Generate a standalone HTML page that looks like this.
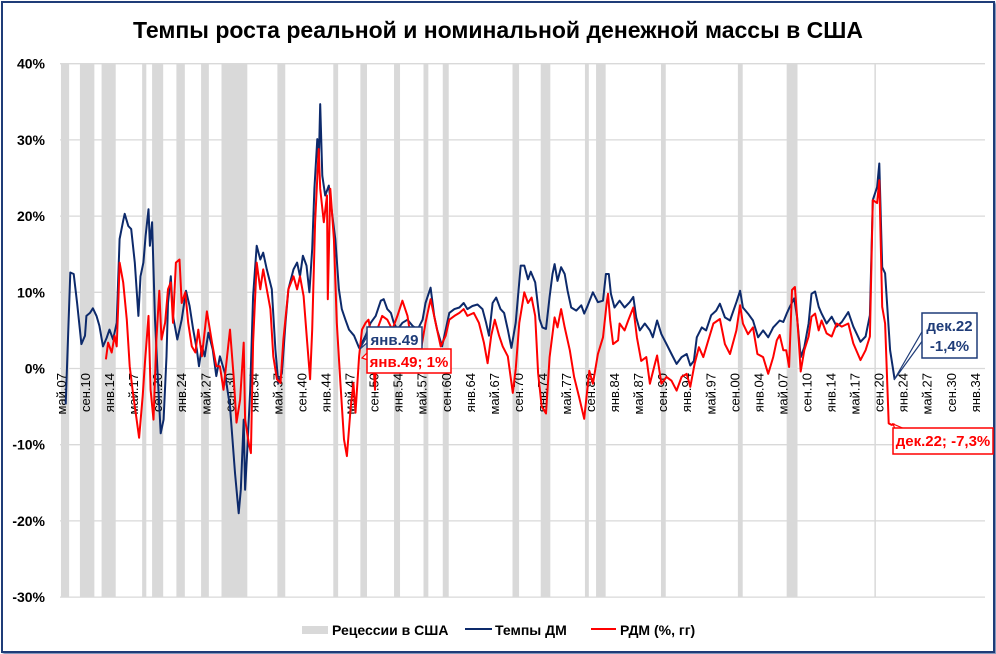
<!DOCTYPE html>
<html><head><meta charset="utf-8">
<style>
html,body{margin:0;padding:0;background:#fff;}
#frame{position:absolute;left:1px;top:1px;width:990px;height:648px;border:2px solid #1f3c78;box-shadow:2px 2px 2px #7a8fb8;background:#fff;}
svg{position:absolute;left:0;top:0;}
text{font-family:"Liberation Sans","DejaVu Sans",sans-serif;}
</style></head>
<body>
<div id="frame"></div>
<svg id="chart" width="996" height="654">
<text x="498" y="38" text-anchor="middle" font-size="23" font-weight="bold" fill="#000">Темпы роста реальной и номинальной денежной массы в США</text>
<g id="rec"></g>
<g id="grid"></g>
<g id="ylab"></g>
<g id="xlab"></g>
<g id="series"></g>
<g id="ann"></g>
<g id="legend">
<rect x="302" y="626" width="26" height="8" fill="#d9d9d9"/>
<text x="332" y="635" font-size="14" font-weight="bold">Рецессии в США</text>
<line x1="465" y1="629" x2="492" y2="629" stroke="#0d2a6b" stroke-width="2"/>
<text x="495" y="635" font-size="14" font-weight="bold">Темпы ДМ</text>
<line x1="591" y1="629" x2="616" y2="629" stroke="#ff0000" stroke-width="2"/>
<text x="620" y="635" font-size="14" font-weight="bold">РДМ (%, гг)</text>
</g>
</svg>
<script>
const yTicks=[40,30,20,10,0,-10,-20,-30];
const recStart=[1907.37,1910.0,1913.0,1918.62,1920.0,1923.37,1926.79,1929.62,1937.37,1945.12,1948.87,1953.54,1957.62,1960.29,1969.96,1973.87,1980.0,1981.54,1990.54,2001.2,2007.96,2020.12];
const recEnd=[1908.5,1912.0,1914.96,1919.2,1921.54,1924.54,1927.87,1933.2,1938.46,1945.79,1949.79,1954.37,1958.29,1961.12,1970.87,1975.2,1980.54,1982.87,1991.2,2001.87,2009.46,2020.29];
const blueT=[1908.02,1908.67,1909.13,1909.6,1910.2,1910.7,1910.9,1911.4,1911.8,1912.3,1912.7,1913.2,1913.7,1914.1,1914.6,1915.1,1915.5,1916.0,1916.2,1916.7,1917.1,1917.6,1918.1,1918.4,1918.8,1919.1,1919.5,1919.7,1920.0,1920.4,1920.8,1921.2,1921.6,1922.0,1922.2,1922.6,1922.9,1923.5,1924.1,1924.7,1925.2,1925.7,1926.2,1926.5,1926.9,1927.3,1927.8,1928.4,1928.9,1929.4,1930.1,1930.8,1931.5,1932.0,1932.3,1932.7,1932.9,1933.2,1933.6,1934.0,1934.5,1935.0,1935.4,1935.9,1936.6,1937.1,1937.5,1938.0,1938.5,1938.9,1939.6,1940.1,1940.5,1940.9,1941.4,1941.8,1942.2,1942.5,1942.9,1943.1,1943.3,1943.6,1944.0,1944.5,1945.0,1945.4,1945.9,1946.3,1946.8,1947.3,1948.0,1948.7,1949.1,1949.6,1950.3,1951.0,1951.7,1952.1,1952.6,1953.1,1953.5,1954.0,1954.7,1955.4,1956.1,1956.8,1957.5,1957.9,1958.6,1959.1,1959.5,1960.2,1960.7,1961.2,1961.9,1962.6,1963.2,1963.7,1964.4,1965.1,1965.8,1966.3,1966.7,1967.2,1967.7,1968.3,1968.8,1969.3,1969.8,1970.4,1971.1,1971.6,1972.1,1972.5,1973.1,1973.7,1974.1,1974.6,1975.1,1975.5,1975.8,1976.2,1976.7,1977.2,1977.6,1978.1,1978.8,1979.5,1979.9,1980.4,1981.1,1981.8,1982.5,1982.9,1983.3,1983.6,1984.1,1984.8,1985.5,1986.2,1986.7,1987.1,1987.6,1988.3,1989.0,1989.4,1990.0,1990.6,1991.3,1992.0,1992.7,1993.4,1994.1,1994.6,1995.1,1995.5,1996.2,1996.8,1997.5,1998.2,1998.7,1999.4,2000.1,2001.0,2001.5,2001.9,2002.6,2003.3,2004.0,2004.7,2005.4,2006.1,2007.0,2007.5,2007.97,2008.4,2009.0,2009.4,2009.9,2010.4,2011.0,2011.4,2011.9,2012.4,2012.8,2013.5,2014.2,2014.9,2015.6,2016.5,2017.2,2018.2,2018.9,2019.5,2019.9,2020.5,2020.8,2021.2,2021.6,2022.3,2022.92];
const blueV=[-4.7,12.6,12.4,8.6,3.2,4.3,6.9,7.3,7.9,6.9,5.6,2.9,4.0,5.1,3.8,6.0,17.0,19.4,20.3,18.7,18.3,13.9,6.9,12.1,13.9,17.4,20.9,16.1,19.2,6.4,-1.4,-8.5,-6.7,1.6,8.6,12.1,6.9,3.8,6.4,10.2,8.2,5.1,2.5,0.3,2.9,1.6,4.7,2.5,-1.0,1.6,-0.6,-5.0,-13.7,-19.0,-15.9,-6.7,-15.9,-10.7,-2.8,9.5,16.1,14.3,15.2,13.0,10.4,2.5,-1.9,-0.6,6.0,10.4,13.0,13.9,12.1,14.8,13.5,10.0,15.7,23.6,30.1,26.6,34.7,25.3,22.7,24.0,20.0,17.0,10.4,7.8,6.4,5.1,4.3,2.7,3.4,4.3,6.0,6.9,8.9,9.1,7.8,7.3,6.0,5.1,6.0,6.4,5.6,5.1,6.4,8.6,10.6,6.9,5.1,2.9,5.1,7.3,7.8,8.0,8.6,7.8,8.2,8.4,7.8,6.0,4.3,8.6,9.3,7.8,7.3,5.1,2.7,6.0,13.5,13.5,11.7,12.7,11.3,6.5,5.4,5.2,9.4,12.4,13.7,11.5,13.3,12.4,10.2,8.0,7.6,8.3,7.2,8.3,10.0,8.7,8.9,12.4,12.4,9.8,8.0,8.9,8.0,8.7,9.4,6.7,5.0,5.9,5.0,4.1,6.3,4.5,3.2,1.9,0.6,1.5,1.9,0.4,1.0,4.1,5.4,5.0,7.0,7.6,8.5,6.7,6.3,8.7,10.2,8.0,7.2,6.3,4.1,5.0,4.1,5.4,6.3,6.1,7.2,8.1,9.2,6.8,1.5,2.8,5.9,9.8,10.1,8.1,7.2,5.9,6.8,5.5,6.1,7.4,5.5,3.5,4.2,7.0,22.1,23.8,26.9,13.3,12.5,2.4,-1.4];
const redT=[1913.6,1913.9,1914.4,1914.8,1915.1,1915.3,1915.5,1916.0,1916.5,1916.9,1917.4,1917.8,1918.2,1918.7,1919.0,1919.5,1919.8,1920.2,1920.6,1921.0,1921.3,1921.8,1922.2,1922.6,1922.9,1923.3,1923.8,1924.1,1924.6,1925.0,1925.5,1926.0,1926.4,1926.9,1927.6,1928.3,1928.9,1929.4,1929.9,1930.4,1930.8,1931.3,1931.7,1932.2,1932.7,1932.9,1933.4,1933.7,1934.0,1934.5,1935.0,1935.4,1935.9,1936.4,1936.8,1937.3,1937.8,1938.2,1938.9,1939.6,1940.1,1940.5,1941.0,1941.5,1941.9,1942.2,1942.6,1943.1,1943.3,1943.8,1944.25,1944.35,1944.7,1945.2,1945.6,1946.1,1946.6,1947.0,1947.5,1947.9,1948.2,1948.7,1949.1,1949.6,1950.0,1950.5,1950.9,1951.2,1951.9,1952.6,1953.3,1954.0,1954.7,1955.4,1956.1,1956.8,1957.2,1957.9,1958.6,1959.3,1960.0,1960.7,1961.2,1961.9,1962.6,1963.2,1963.7,1964.6,1965.3,1966.0,1966.5,1967.0,1967.5,1968.1,1968.6,1969.3,1970.0,1970.4,1970.9,1971.6,1972.1,1972.6,1973.1,1973.5,1974.0,1974.6,1975.1,1975.8,1976.2,1976.7,1977.2,1977.9,1978.5,1979.2,1979.9,1980.6,1981.1,1981.8,1982.5,1983.0,1983.2,1983.5,1983.9,1984.6,1984.8,1985.5,1986.0,1986.7,1987.2,1987.8,1988.5,1989.0,1989.7,1990.0,1990.6,1991.3,1992.0,1992.7,1993.4,1994.1,1994.6,1995.2,1995.8,1996.4,1997.1,1997.8,1998.7,1999.4,2000.1,2001.0,2001.5,2001.9,2002.6,2003.3,2003.9,2004.7,2005.4,2006.1,2006.6,2007.0,2007.5,2007.9,2008.3,2008.7,2009.1,2009.6,2009.9,2010.4,2011.0,2011.4,2011.9,2012.4,2012.8,2013.5,2014.2,2014.9,2015.6,2016.5,2017.2,2018.2,2018.9,2019.5,2019.9,2020.5,2020.8,2021.2,2021.6,2022.1,2022.5,2022.92];
const redV=[1.2,3.4,2.1,4.3,2.9,8.2,13.9,11.3,6.4,0.3,-3.6,-6.3,-9.1,-3.6,0.7,6.9,-2.8,-6.7,3.8,10.2,3.8,6.0,10.4,11.3,6.0,13.9,14.3,8.6,10.0,6.0,2.9,2.1,5.1,1.6,7.5,3.4,0.3,0.3,-2.8,1.6,5.1,-1.0,-7.1,-4.1,3.4,-6.7,-9.8,-11.1,3.4,13.9,10.4,13.0,10.4,7.8,1.6,-1.4,-1.9,3.8,10.4,12.1,10.4,12.1,9.5,3.4,-1.4,5.1,19.2,28.8,23.6,19.2,22.7,9.1,23.6,17.0,6.0,-1.9,-9.3,-11.5,-5.4,-1.9,-5.8,1.6,5.1,6.0,6.4,3.8,-2.8,5.1,6.9,6.4,5.1,6.9,8.9,6.9,2.5,1.6,2.1,6.0,9.1,6.0,2.9,4.3,6.4,6.9,7.3,7.8,6.9,7.3,6.0,3.4,0.7,4.3,6.4,4.3,2.9,1.6,-3.2,-0.1,6.0,10.0,8.6,9.3,6.9,-0.6,-5.0,-5.9,1.5,6.7,5.4,7.8,5.4,2.4,-1.1,-3.8,-6.6,-0.3,-2.0,1.9,4.1,8.5,9.8,6.3,3.2,3.7,5.9,5.0,6.3,8.0,4.1,1.0,1.5,-2.0,0.6,1.7,-2.0,-1.1,-1.6,-2.9,-1.1,-0.7,-2.4,0.6,2.8,1.5,3.7,5.9,6.5,3.2,1.9,5.0,8.3,5.9,4.5,5.4,1.9,1.5,-0.7,1.5,3.7,4.4,2.4,2.4,0.2,10.3,10.7,4.2,-0.4,2.4,4.2,6.8,7.2,5.0,6.3,4.6,4.2,5.9,5.5,5.9,3.3,1.1,2.4,4.2,22.1,21.7,24.7,8.1,5.9,-7.2,-7.4,-7.3];
const xLabels=["май.07","сен.10","янв.14","май.17","сен.20","янв.24","май.27","сен.30","янв.34","май.37","сен.40","янв.44","май.47","сен.50","янв.54","май.57","сен.60","янв.64","май.67","сен.70","янв.74","май.77","сен.80","янв.84","май.87","сен.90","янв.94","май.97","сен.00","янв.04","май.07","сен.10","янв.14","май.17","сен.20","янв.24","май.27","сен.30","янв.34"];
const PL=60,PR=985,PT=64,PB=597;
const NS='http://www.w3.org/2000/svg';
function X(t){return 61+(t-1907.375)*12*0.6012;}
function Y(v){return 368.5-v*7.62;}
function mk(tag,attrs,parent){const e=document.createElementNS(NS,tag);for(const k in attrs)e.setAttribute(k,attrs[k]);parent.appendChild(e);return e;}
const rec=document.getElementById('rec');
recStart.forEach((s,i)=>{const x1=Math.max(PL,X(s)),x2=X(recEnd[i]);
 const r=mk('rect',{x:x1,y:PT,width:Math.max(1.5,x2-x1),height:PB-PT,fill:'#d9d9d9'},rec);
 
 });
const grid=document.getElementById('grid'),ylab=document.getElementById('ylab');
yTicks.forEach(v=>{const l=mk('line',{x1:PL,x2:PR,y1:Y(v),y2:Y(v),stroke:'#d9d9d9','stroke-width':1.3},grid);
 
 
 const t=mk('text',{x:45,y:Y(v)+5,'text-anchor':'end','font-size':14,'font-weight':'bold'},ylab);
 t.textContent=v+'%';
 
 });
const xlab=document.getElementById('xlab');
xLabels.forEach((s,i)=>{const x=X(1907.375+i*40/12)+5;
 const t=mk('text',{x:0,y:0,'text-anchor':'end','font-size':13,transform:'translate('+x+',373) rotate(-90)'},xlab);
 t.textContent=s;
 
 });
const ser=document.getElementById('series');
function line(T,V,col,name){const d=T.map((t,i)=>(i?'L':'M')+X(t).toFixed(1)+','+Y(V[i]).toFixed(1)).join('');
 const p=mk('path',{d:d,fill:'none',stroke:col,'stroke-width':2,'stroke-linejoin':'round'},ser);
 
 }
line(blueT,blueV,'#0d2a6b','nominal-money-growth-line');
line(redT,redV,'#ff0000','real-money-growth-line');
const ann=document.getElementById('ann');
function callout(bx,by,bw,bh,px,py,col,lines,name,tri){
 const g=mk('g',{},ann);
 
 
 mk('polygon',{points:tri.join(' ')+' '+px+','+py,fill:'#fff',stroke:col,'stroke-width':1.2},g);
 mk('rect',{x:bx,y:by,width:bw,height:bh,fill:'#fff',stroke:col,'stroke-width':1.5},g);
 mk('polygon',{points:tri.join(' '),fill:'#fff'},g);
 lines.forEach((s,i)=>{const t=mk('text',{x:bx+bw/2,y:by+18+i*20,'text-anchor':'middle','font-size':15,'font-weight':'bold',fill:col},g);t.textContent=s;});
}
callout(367,327,55,22,360,349,'#1f3c78',['янв.49'],'annotation-nominal-jan49',['368,335','368,342']);
callout(367,349,84,24,362,358,'#ff0000',['янв.49; 1%'],'annotation-real-jan49',['368,352','368,360']);
callout(922,313,55,45,894,380,'#1f3c78',['дек.22','-1,4%'],'annotation-nominal-dec22',['923,330','923,340']);
callout(893,428,100,26,893,424,'#ff0000',['дек.22; -7,3%'],'annotation-real-dec22',['895,429','905,429']);
</script>
</body></html>
